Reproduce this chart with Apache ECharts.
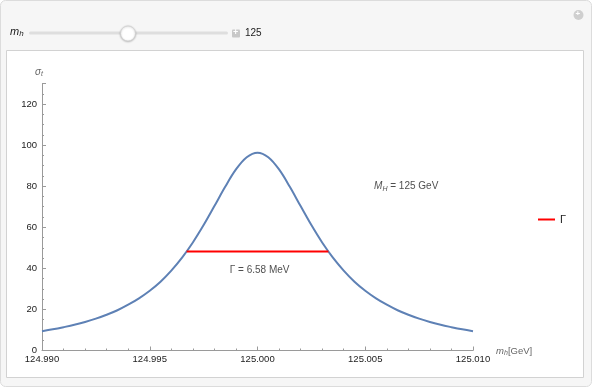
<!DOCTYPE html>
<html><head><meta charset="utf-8">
<script src="https://cdn.jsdelivr.net/npm/echarts@6/dist/echarts.min.js"></script>
<style>html,body{margin:0;padding:0;background:#fff}#c{width:592px;height:387px}</style>
</head><body><div id="c"></div>
<script>
// data
const massX = [124.9900,124.9905,124.9910,124.9915,124.9920,124.9925,124.9930,124.9935,124.9940,124.9945,
  124.9950,124.9955,124.9960,124.9965,124.9970,124.9975,124.9980,124.9985,124.9990,124.9995,
  125.0000,125.0005,125.0010,125.0015,125.0020,125.0025,125.0030,125.0035,125.0040,125.0045,
  125.0050,125.0055,125.0060,125.0065,125.0070,125.0075,125.0080,125.0085,125.0090,125.0095,125.0100];
const sigmaT = [9.4,10.3,11.35,12.5,13.9,15.5,17.4,19.6,22.3,25.4,
  29.1,33.5,38.9,45.2,52.6,61.05,70.3,79.7,88.15,94.1,
  96.3,94.1,88.15,79.7,70.3,61.05,52.6,45.2,38.9,33.5,
  29.1,25.4,22.3,19.6,17.4,15.5,13.9,12.5,11.35,10.3,9.4];
const widthX = [124.99671, 125.00329];
const widthY = [48.15, 48.15];
const xTicks = ['124.990','124.995','125.000','125.005','125.010'];
const yTicks = [0,20,40,60,80,100,120];
const labelMH = {x:125.0069, y:79.8};
const labelG = {x:125.0001, y:39.3};
const sliderValue = '125';

const FONT = 'Liberation Sans, Arial, sans-serif';
const chart = echarts.init(document.getElementById('c'), null, {renderer:'canvas'});
chart.setOption({
  animation:false,
  backgroundColor:'transparent',
  textStyle:{fontFamily:FONT},
  graphic:[
    {type:'rect', z:-100, shape:{x:0.5,y:0.5,width:591,height:386,r:5}, style:{fill:'#f6f6f6',stroke:'#dcdcdc',lineWidth:1}},
    {type:'rect', z:-99, shape:{x:6.5,y:50.5,width:577,height:327}, style:{fill:'#ffffff',stroke:'#d2d2d2',lineWidth:1}},
    {type:'text', left:10, top:26, style:{text:'{m|m}{s|h}', rich:{m:{fontStyle:'italic',fontSize:11,fontFamily:FONT,fill:'#222'},s:{fontStyle:'italic',fontSize:8,fontFamily:FONT,fill:'#222',padding:[5,0,0,0]}}}},
    {type:'rect', shape:{x:29,y:31.5,width:199,height:3,r:1.5}, style:{fill:'#dedede'}},
    {type:'circle', shape:{cx:128,cy:33.5,r:7.5}, style:{fill:'#ffffff',stroke:'#d0d0d0',lineWidth:0.8,shadowBlur:2,shadowColor:'rgba(0,0,0,0.25)',shadowOffsetY:0.5}},
    {type:'rect', shape:{x:232,y:29.5,width:8,height:8,r:1}, style:{fill:'#c8c8c8'}},
    {type:'text', left:233, top:28.5, style:{text:'+', fontSize:9, fontWeight:'bold', fill:'#fff', fontFamily:FONT}},
    {type:'text', left:245, top:28, style:{text:sliderValue, fontSize:10, fill:'#222', fontFamily:FONT}},
    {type:'circle', shape:{cx:578.5,cy:15,r:5}, style:{fill:'#cfcfcf'}},
    {type:'text', left:575.5, top:10, style:{text:'+', fontSize:8, fontWeight:'bold', fill:'#fff', fontFamily:FONT}}
  ],
  grid:{left:42, right:119, top:83.5, bottom:36.5, containLabel:false},
  legend:{
    data:[{name:'Γ', icon:'rect'}],
    left:533, top:209, itemWidth:17, itemHeight:2, itemGap:6,
    textStyle:{fontSize:11, color:'#222', fontFamily:FONT}
  },
  xAxis:{
    type:'value', min:124.990, max:125.010, interval:0.005,
    name:'{i|m}{s|h}{n|[GeV]}', nameLocation:'end', nameGap:6,
    nameTextStyle:{rich:{i:{fontStyle:'italic',fontSize:9.5,color:'#666',fontFamily:FONT},s:{fontStyle:'italic',fontSize:7,color:'#666',padding:[4,0,0,0],fontFamily:FONT},n:{fontSize:9.5,color:'#666',fontFamily:FONT}}, verticalAlign:'bottom', padding:[0,0,-6,0]},
    axisLine:{lineStyle:{color:'#9a9a9a',width:1}},
    axisTick:{inside:true,length:4,lineStyle:{color:'#9a9a9a'}},
    minorTick:{show:true,splitNumber:5,length:2,lineStyle:{color:'#9a9a9a'}},
    splitLine:{show:false},
    axisLabel:{color:'#222',fontSize:9.5,margin:4,fontFamily:FONT,
      formatter:v=>{const s=v.toFixed(3);return xTicks.indexOf(s)>=0?s:'';}}
  },
  yAxis:{
    type:'value', min:0, max:130, interval:20,
    name:'{i|σ}{s|t}', nameLocation:'end', nameGap:6,
    nameTextStyle:{align:'center',rich:{i:{fontStyle:'italic',fontSize:10,color:'#666',fontFamily:FONT},s:{fontStyle:'italic',fontSize:7,color:'#666',padding:[4,0,0,0],fontFamily:FONT}}, padding:[0,6,0,0]},
    axisLine:{show:true,lineStyle:{color:'#9a9a9a',width:1}},
    axisTick:{show:true,inside:true,length:4,lineStyle:{color:'#9a9a9a'}},
    minorTick:{show:true,splitNumber:4,length:2,lineStyle:{color:'#9a9a9a'}},
    splitLine:{show:false},
    axisLabel:{color:'#222',fontSize:9.5,margin:5,fontFamily:FONT,showMaxLabel:false,
      formatter:v=>yTicks.indexOf(v)>=0?String(v):''}
  },
  series:[
    {type:'line', name:'sigma', data:massX.map((x,i)=>[x,sigmaT[i]]), smooth:0.35, showSymbol:false,
      lineStyle:{color:'#5e81b5',width:2}, itemStyle:{color:'#5e81b5'}, z:3},
    {type:'line', name:'Γ', data:widthX.map((x,i)=>[x,widthY[i]]), showSymbol:false,
      lineStyle:{color:'#ff0000',width:2}, itemStyle:{color:'#ff0000'}, z:4},
    {type:'scatter', name:'labels', symbolSize:0, silent:true,
      data:[
        {value:[labelMH.x,labelMH.y], label:{show:true, position:'inside', formatter:'{i|M}{s|H}{n| = 125 GeV}',
          rich:{i:{fontStyle:'italic',fontSize:10,color:'#222',fontFamily:FONT},s:{fontStyle:'italic',fontSize:7,color:'#222',padding:[4,0,0,0],fontFamily:FONT},n:{fontSize:10,color:'#222',fontFamily:FONT}}}},
        {value:[labelG.x,labelG.y], label:{show:true, position:'inside', formatter:'Γ = 6.58 MeV', fontSize:10, color:'#222', fontFamily:FONT}}
      ]}
  ]
});
</script></body></html>
